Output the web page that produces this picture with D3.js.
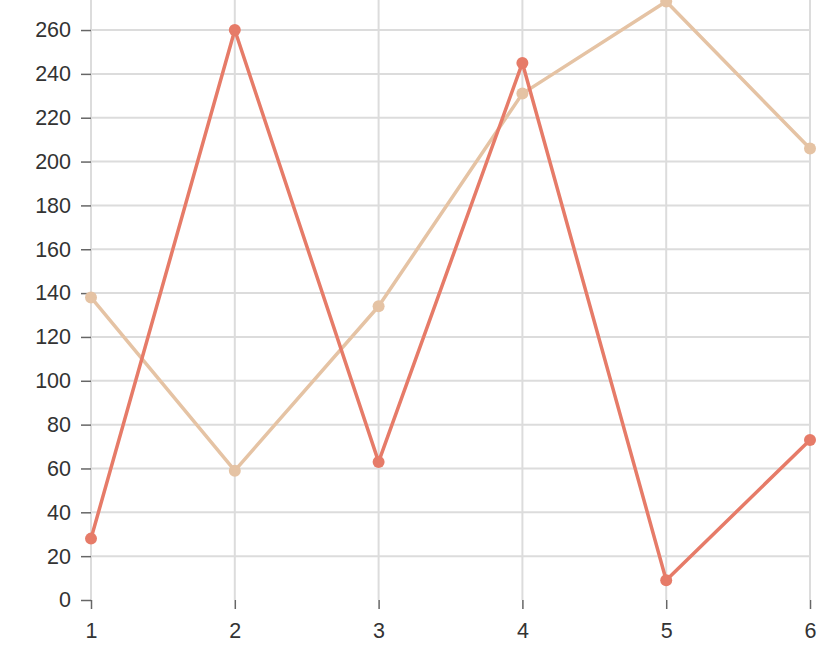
<!DOCTYPE html>
<html>
<head>
<meta charset="utf-8">
<script src="https://cdn.jsdelivr.net/npm/d3@7"></script>
<style>
  html, body { margin: 0; padding: 0; background: #fff; }
  svg { display: block; }
  text { font-family: "Liberation Sans", Arial, Helvetica, sans-serif; }
</style>
</head>
<body>
<svg id="chart" width="832" height="652"></svg>
<script>
const categories = [1, 2, 3, 4, 5, 6];
const seriesRed = [28, 260, 63, 245, 9, 73];
const seriesBeige = [138, 59, 134, 231, 273, 206];
const yTickValues = [0, 20, 40, 60, 80, 100, 120, 140, 160, 180, 200, 220, 240, 260];
const yMax = 273.7;

const W = 832, H = 652;
const margin = { top: 0, right: 22, bottom: 52, left: 91 };
const iw = W - margin.left - margin.right;
const ih = H - margin.top - margin.bottom;

const svg = d3.select("#chart");
const g = svg.append("g").attr("transform", `translate(${margin.left},${margin.top})`);

const x = d3.scaleLinear().domain([categories[0], categories[categories.length - 1]]).range([0, iw]);
const y = d3.scaleLinear().domain([0, yMax]).range([ih, 0]);

// grid
g.append("g").selectAll("line.h")
  .data(yTickValues.filter(v => v !== 0))
  .join("line")
  .attr("x1", 0).attr("x2", iw)
  .attr("y1", d => y(d)).attr("y2", d => y(d))
  .attr("stroke", "#dcdcdc").attr("stroke-width", 2);
g.append("g").selectAll("line.v")
  .data(categories)
  .join("line")
  .attr("x1", d => x(d)).attr("x2", d => x(d))
  .attr("y1", 0).attr("y2", ih)
  .attr("stroke", "#dcdcdc").attr("stroke-width", 2);

// axes
const yAxis = g.append("g")
  .call(d3.axisLeft(y).tickValues(yTickValues).tickSize(10).tickPadding(10));
const xAxis = g.append("g").attr("transform", `translate(0,${ih})`)
  .call(d3.axisBottom(x).tickValues(categories).tickFormat(d3.format("d")).tickSize(9).tickPadding(14));
[yAxis, xAxis].forEach(a => {
  a.select(".domain").remove();
  a.selectAll(".tick line").attr("stroke", "#666").attr("stroke-width", 1.5);
  a.selectAll(".tick text").attr("fill", "#333").style("font-size", "21.5px");
});

// lines
const series = [
  { values: seriesBeige, color: "#e5c3a4" },
  { values: seriesRed, color: "#e67b68" }
];
const line = d3.line().x((d, i) => x(categories[i])).y(d => y(d));
series.forEach(s => {
  g.append("path").datum(s.values)
    .attr("d", line).attr("fill", "none")
    .attr("stroke", s.color).attr("stroke-width", 3.5)
    .attr("stroke-linejoin", "round");
  g.append("g").selectAll("circle").data(s.values).join("circle")
    .attr("cx", (d, i) => x(categories[i])).attr("cy", d => y(d))
    .attr("r", 6).attr("fill", s.color);
});
</script>
</body>
</html>
